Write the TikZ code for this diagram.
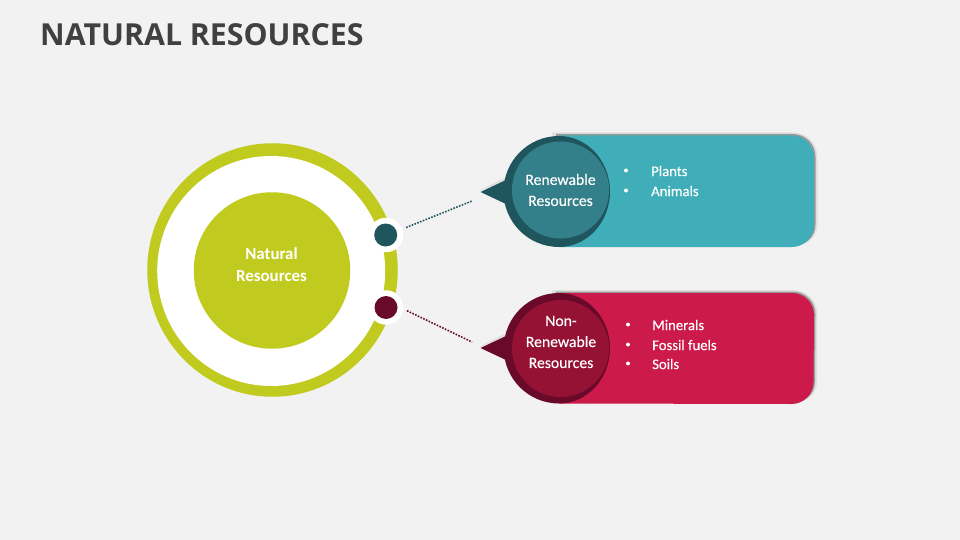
\documentclass[tikz,border=0pt]{standalone}
\usepackage{fontspec}
\setmainfont{Carlito}
\newfontfamily\titlefont{Open Sans}
\newfontfamily\semifont[FakeBold=0.25]{Carlito}
\usepackage{tikz}
\usetikzlibrary{shapes.geometric}
\definecolor{bggray}{HTML}{F2F2F2}
\definecolor{titlegray}{HTML}{404040}
\definecolor{olive}{HTML}{C1CB1F}
\definecolor{tealbar}{HTML}{40AEB8}
\definecolor{tealdark}{HTML}{1F565E}
\definecolor{tealmid}{HTML}{33808A}
\definecolor{redbar}{HTML}{CC1A4A}
\definecolor{reddark}{HTML}{6A0A2A}
\definecolor{redmid}{HTML}{951234}
\tikzset{
  disc/.style={circle,inner sep=0pt,minimum size=#1},
  label/.style={text=white,font=\semifont\fontsize{15.7}{21}\selectfont,align=center},
  item/.style={text=white,font=\semifont\fontsize{14.7}{20}\selectfont,anchor=west,inner sep=0pt},
  link/.style={line width=1.6pt,dash pattern=on 1.6pt off 1.4pt,shorten <=4pt},
  shade1/.style={fill=black!12},
  shade2/.style={fill=black!40},
}
\begin{document}
\begin{tikzpicture}[x=1pt,y=-1pt]
    \fill[bggray] (0, 0) rectangle (960, 540);
    \useasboundingbox (0, 0) rectangle (960, 540);
    \node[anchor=west,inner sep=0pt,text=titlegray,font=\titlefont\bfseries\fontsize{30.3}{36}\selectfont] (title) at (40, 35) {NATURAL RESOURCES};
    % main circle
    \node[ellipse,inner sep=0pt,minimum width=250.5pt,minimum height=253.5pt,fill=olive] (outer) at (272.5, 270) {};
    \node[ellipse,inner sep=0pt,minimum width=228pt,minimum height=230pt,fill=white] (ring) at (271.2, 271) {};
    \node[disc=156.5pt,fill=olive] (natural) at (272, 270.5) {};
    \node[text=white,align=center,font=\bfseries\fontsize{16.9}{22}\selectfont] (naturaltext) at (271.5, 264.5) {Natural\\Resources};
    \node[disc=34.5pt,fill=white] (ringA) at (386, 235) {};
    \node[disc=34.5pt,fill=white] (ringB) at (386, 307.5) {};
    \node[disc=23pt,fill=tealdark] (dotA) at (385.7, 235) {};
    \node[disc=23pt,fill=reddark] (dotB) at (386, 307.5) {};
    % shadows first
    \fill[shade1] (552, 132.5) -- (793, 132.5) arc (-90:0:24.5) -- (817.5, 225) arc (0:90:20) -- (570, 245) -- cycle;
    \fill[shade2] (556, 134) -- (793, 134) arc (-90:0:22.5) -- (815.5, 225) arc (0:90:20) -- (570, 245) -- cycle;
    \fill[shade1] (552, 290) -- (793, 290) arc (-90:0:24.5) -- (817, 382) arc (0:90:20) -- (570, 401) -- cycle;
    \fill[shade2] (556, 291.5) -- (793, 291.5) arc (-90:0:22.5) -- (815, 382) arc (0:90:20) -- (570, 401) -- cycle;
    \fill[shade1] (478, 191.5) -- (504, 178) -- (506, 182) -- cycle;
    \fill[shade1] (478, 347.5) -- (504, 334) -- (506, 338) -- cycle;
    % upper bar
    \fill[tealbar] (559, 135.5) -- (792, 135.5) arc (-90:0:22) -- (814, 225) arc (0:90:22) -- (559, 247) -- cycle;
    \fill[tealdark] (480.5, 192) -- (506, 180) -- (506, 204) -- cycle;
    \fill[tealdark] (559, 136) arc (-90:-270:55.5) arc (90:-90:51 and 55.5) -- cycle;
    \node[disc=97pt,fill=tealmid,label] (renew) at (560.5, 190) {Renewable\\Resources};
    % lower bar
    \fill[redbar] (559, 293) -- (792, 293) arc (-90:0:22) -- (813.5, 382) arc (0:90:22) -- (559, 403.5) -- cycle;
    \fill[reddark] (480.5, 348) -- (506, 336) -- (506, 360) -- cycle;
    \fill[reddark] (559, 293) arc (-90:-270:55.25) arc (90:-90:51 and 55.25) -- cycle;
    \node[disc=97pt,fill=redmid,label] (nonrenew) at (560.5, 348.5) {};
    \node[label] (nonrenewtext) at (561, 342) {Non-\\Renewable\\Resources};
    % lists
    \node[item] (plants) at (651, 171) {Plants};
    \node[item] (animals) at (651, 191) {Animals};
    \node[item] (minerals) at (652, 325) {Minerals};
    \node[item] (fossil) at (652, 345) {Fossil fuels};
    \node[item] (soils) at (652, 364) {Soils};
    \foreach \bx/\by/\bname in {626/170.5/a,626/190.5/b,628/324.5/c,628/344.5/d,628/363.5/e}
      \node[disc=4pt,fill=white] (bullet\bname) at (\bx, \by) {};
    % dotted links
    \coordinate (endA) at (472, 201);
    \coordinate (endB) at (472, 342);
    \draw[link,tealdark] (ringA.20) -- (endA);
    \draw[link,reddark] (ringB.-5) -- (endB);
  \end{tikzpicture}
\end{document}
